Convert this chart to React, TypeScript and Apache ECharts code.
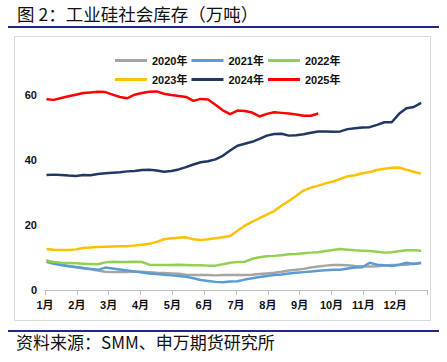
import React, { useEffect, useRef } from "react";
import * as echarts from "echarts";

const TITLE = "图 2：工业硅社会库存（万吨）";
const SOURCE = "资料来源：SMM、申万期货研究所";
const MONTHS = ["1月", "2月", "3月", "4月", "5月", "6月", "7月", "8月", "9月", "10月", "11月", "12月"];
const SERIES_NAMES = ["2020年", "2021年", "2022年", "2023年", "2024年", "2025年"];
const COLORS = ["#A5A5A5", "#5B9BD5", "#92D050", "#FFC000", "#1F3864", "#FF0000"];

const Y2020 = [9.2, 8.2, 7.8, 7.4, 7.0, 6.7, 6.4, 6.0, 5.6, 5.5, 5.6, 5.5, 5.6, 5.6, 5.5, 5.3, 5.2, 5.1, 5.0, 4.7, 4.6, 4.6, 4.6, 4.5, 4.6, 4.6, 4.6, 4.6, 4.7, 4.9, 5.1, 5.3, 5.6, 6.0, 6.2, 6.5, 6.9, 7.2, 7.5, 7.7, 7.7, 7.6, 7.4, 7.3, 7.2, 7.3, 7.5, 7.7, 7.7, 7.8, 8.1, 8.4];
const Y2021 = [8.7, 8.1, 7.7, 7.3, 7.1, 6.8, 6.5, 6.2, 6.9, 6.6, 6.3, 6.0, 5.7, 5.4, 5.1, 4.9, 4.7, 4.5, 4.3, 4.1, 3.6, 3.1, 2.8, 2.5, 2.4, 2.6, 2.7, 3.2, 3.6, 4.0, 4.3, 4.6, 4.8, 5.1, 5.3, 5.5, 5.7, 5.9, 6.1, 6.2, 6.2, 6.6, 6.9, 7.0, 8.4, 7.8, 7.6, 7.4, 7.8, 8.4, 8.0, 8.3];
const Y2022 = [8.9, 8.6, 8.4, 8.3, 8.2, 8.1, 8.0, 7.9, 8.5, 8.7, 8.6, 8.6, 8.7, 8.6, 7.8, 7.7, 7.7, 7.7, 7.8, 7.7, 7.6, 7.6, 7.5, 7.5, 7.9, 8.4, 8.6, 8.7, 9.6, 10.1, 10.4, 10.5, 10.7, 11.0, 11.1, 11.3, 11.5, 11.6, 12.0, 12.3, 12.6, 12.4, 12.2, 12.1, 12.0, 11.8, 11.5, 11.6, 11.9, 12.2, 12.2, 12.1];
const Y2023 = [12.6, 12.4, 12.3, 12.3, 12.5, 12.9, 13.1, 13.2, 13.3, 13.4, 13.5, 13.5, 13.7, 13.9, 14.2, 14.8, 15.6, 15.9, 16.1, 16.2, 15.6, 15.4, 15.6, 15.9, 16.2, 16.6, 18.2, 19.8, 21.0, 22.1, 23.2, 24.3, 26.0, 27.4, 29.0, 30.6, 31.5, 32.1, 32.8, 33.4, 34.2, 35.0, 35.3, 35.9, 36.3, 36.9, 37.3, 37.6, 37.7, 37.0, 36.4, 35.8];
const Y2024 = [35.4, 35.5, 35.4, 35.2, 35.1, 35.4, 35.3, 35.7, 35.9, 36.1, 36.2, 36.5, 36.6, 36.9, 37.0, 36.8, 36.4, 36.6, 37.1, 37.8, 38.6, 39.3, 39.6, 40.2, 41.3, 42.9, 44.4, 45.0, 45.6, 46.5, 47.5, 48.0, 48.1, 47.5, 47.6, 47.9, 48.4, 48.8, 48.8, 48.7, 48.8, 49.5, 49.8, 50.0, 50.1, 50.8, 51.6, 51.6, 54.2, 55.9, 56.3, 57.6];
const Y2025 = [58.7, 58.5, 59.1, 59.6, 60.1, 60.6, 60.8, 61.0, 60.9, 60.1, 59.4, 59.0, 60.1, 60.6, 61.0, 61.1, 60.4, 60.0, 59.7, 59.4, 58.2, 58.8, 58.6, 57.0, 55.3, 54.1, 55.2, 55.1, 54.6, 53.4, 54.2, 54.7, 54.5, 54.3, 54.0, 53.6, 53.6, 54.3];

const ALL = [Y2020, Y2021, Y2022, Y2023, Y2024, Y2025];
const Y_TICKS = [0, 20, 40, 60];

const weekPos = (i: number) => ((i + 0.2) * 12) / 52;

export default function App() {
  const ref = useRef<HTMLDivElement>(null);
  useEffect(() => {
    if (!ref.current) return;
    const chart = echarts.init(ref.current, null, { renderer: "svg" });
    const latin = '"Liberation Sans", "Noto Sans CJK SC", sans-serif';
    const cjk = '"Noto Sans CJK SC", sans-serif';
    const legendCommon = {
      left: 110, itemWidth: 32, itemHeight: 3, itemGap: 4, icon: "rect",
      textStyle: { fontSize: 11, fontWeight: "bold", fontFamily: latin, color: "#111" },
    };
    chart.setOption({
      animation: false,
      backgroundColor: "#ffffff",
      graphic: [
        { type: "text", left: 17, top: 5, style: { text: TITLE, fontSize: 17.5, fontFamily: cjk, fill: "#111" } },
        { type: "rect", shape: { x: 8, y: 26, width: 431, height: 2 }, style: { fill: "#1F2B80" } },
        { type: "rect", shape: { x: 14.5, y: 36.5, width: 416, height: 284 }, style: { fill: "none", stroke: "#D9D9D9", lineWidth: 1 } },
        { type: "rect", shape: { x: 8, y: 330, width: 431, height: 2 }, style: { fill: "#1F2B80" } },
        { type: "text", left: 16, top: 333, style: { text: SOURCE, fontSize: 17, fontFamily: cjk, fill: "#111" } },
      ],
      legend: [
        { ...legendCommon, data: SERIES_NAMES.slice(0, 3), top: 50 },
        { ...legendCommon, data: SERIES_NAMES.slice(3), top: 69 },
      ],
      grid: { left: 45, right: 20, top: 62.5, bottom: 72 },
      xAxis: {
        type: "value", min: 0, max: 12, interval: 1,
        axisLine: { lineStyle: { color: "#BFBFBF" } },
        axisTick: { show: true, length: 5, lineStyle: { color: "#BFBFBF" } },
        splitLine: { show: false },
        axisLabel: {
          margin: 9, fontSize: 11, fontWeight: "bold", fontFamily: latin, color: "#111",
          formatter: (v: number) => (v < 12 ? MONTHS[v] : ""),
        },
      },
      yAxis: {
        type: "value", min: 0, max: 70, interval: 10,
        axisLine: { show: false }, axisTick: { show: false }, splitLine: { show: false },
        axisLabel: {
          margin: 8, fontSize: 11, fontWeight: "bold", fontFamily: latin, color: "#111",
          formatter: (v: number) => (Y_TICKS.includes(v) ? String(v) : ""),
        },
      },
      series: ALL.map((arr, k) => ({
        name: SERIES_NAMES[k],
        type: "line",
        symbol: "none",
        color: COLORS[k],
        lineStyle: { width: 2.5, color: COLORS[k] },
        data: arr.map((v, i) => [weekPos(i), v]),
      })),
    });
    return () => chart.dispose();
  }, []);
  return <div ref={ref} style={{ position: "absolute", left: 0, top: 0, width: 447, height: 362 }} />;
}
